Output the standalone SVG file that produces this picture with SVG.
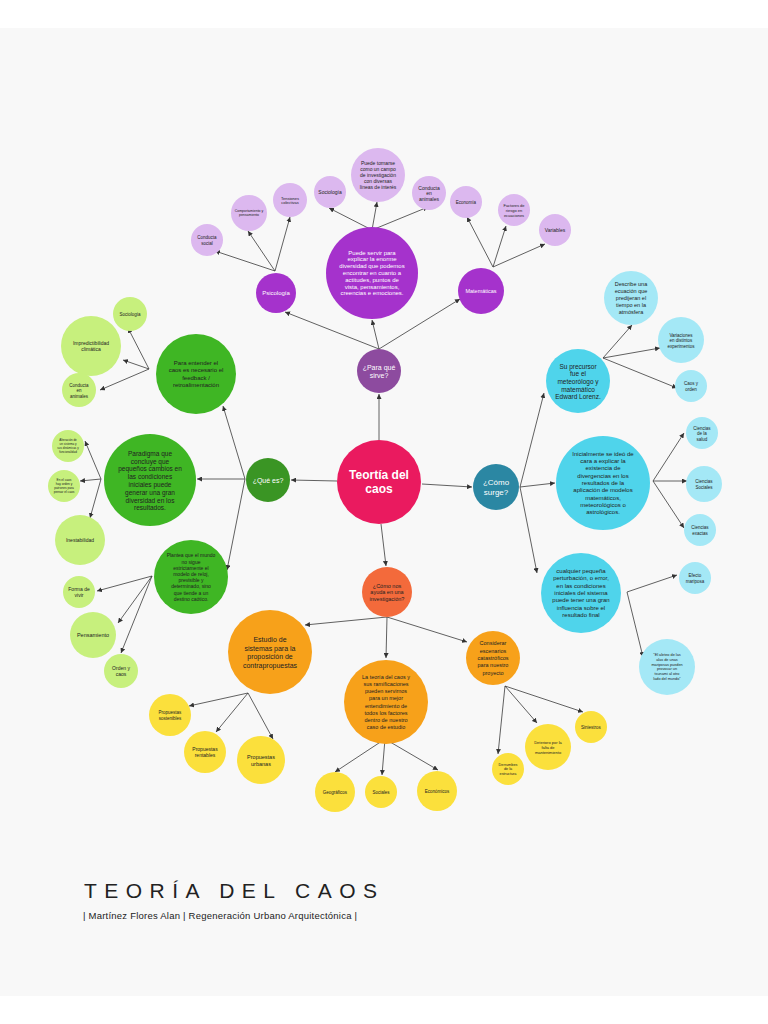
<svg xmlns="http://www.w3.org/2000/svg" width="768" height="1024" viewBox="0 0 768 1024">
<defs>
<marker id="ar" markerWidth="5" markerHeight="5" refX="5" refY="2.5" orient="auto" markerUnits="userSpaceOnUse"><path d="M0,0 L5,2.5 L0,5 z" fill="#333"/></marker>
<style>
.c line{stroke:#3a3a3a;stroke-width:0.8;marker-end:url(#ar)}
text{font-family:"Liberation Sans",Arial,sans-serif;text-anchor:middle;dominant-baseline:central;fill:#222}
.w{fill:#fff}
.pk{fill:#ea1a5f}.pq{fill:#8d4b9f}.pu{fill:#a532cc}.lp{fill:#dcb8ef}
.qe{fill:#3a9524}.gr{fill:#3fb624}.lg{fill:#c7f07d}
.cs{fill:#2b87a3}.bl{fill:#4fd4eb}.lb{fill:#a4e8f6}
.cn{fill:#f36a3b}.or{fill:#f7a11a}.ye{fill:#fbe03c}
</style>
</defs>
<rect x="0" y="0" width="768" height="1024" fill="#ffffff"/>
<rect x="0" y="28" width="768" height="968" fill="#f8f8f8"/>

<g class="c" id="connectors">
<line x1="379" y1="440" x2="379" y2="394"/>
<line x1="337" y1="481" x2="291" y2="480"/>
<line x1="422" y1="484" x2="472" y2="487"/>
<line x1="381" y1="524" x2="386" y2="566"/>
<line x1="379" y1="349" x2="285" y2="312"/>
<line x1="379" y1="349" x2="372" y2="320"/>
<line x1="379" y1="349" x2="460" y2="299"/>
<line x1="275" y1="271" x2="215" y2="251"/>
<line x1="275" y1="271" x2="248" y2="231"/>
<line x1="275" y1="271" x2="290" y2="217"/>
<line x1="372" y1="230" x2="329" y2="208"/>
<line x1="372" y1="230" x2="377" y2="202"/>
<line x1="372" y1="230" x2="428" y2="207"/>
<line x1="493" y1="267" x2="467" y2="217"/>
<line x1="493" y1="267" x2="506" y2="226"/>
<line x1="493" y1="267" x2="545" y2="244"/>
<line x1="245" y1="479" x2="223" y2="406"/>
<line x1="245" y1="479" x2="197" y2="479"/>
<line x1="245" y1="479" x2="227" y2="570"/>
<line x1="149" y1="369" x2="128" y2="328"/>
<line x1="149" y1="369" x2="123" y2="360"/>
<line x1="149" y1="369" x2="100" y2="390"/>
<line x1="101" y1="479" x2="85" y2="441"/>
<line x1="101" y1="479" x2="80" y2="481"/>
<line x1="101" y1="479" x2="90" y2="518"/>
<line x1="152" y1="576" x2="97" y2="591"/>
<line x1="152" y1="576" x2="118" y2="623"/>
<line x1="152" y1="576" x2="121" y2="653"/>
<line x1="520" y1="487" x2="544" y2="393"/>
<line x1="520" y1="487" x2="555" y2="483"/>
<line x1="520" y1="487" x2="537" y2="573"/>
<line x1="603" y1="358" x2="632" y2="325"/>
<line x1="603" y1="358" x2="660" y2="348"/>
<line x1="603" y1="358" x2="677" y2="388"/>
<line x1="653" y1="481" x2="684" y2="433"/>
<line x1="653" y1="481" x2="687" y2="481"/>
<line x1="653" y1="481" x2="684" y2="528"/>
<line x1="627" y1="592" x2="677" y2="575"/>
<line x1="627" y1="592" x2="643" y2="657"/>
<line x1="387" y1="617" x2="305" y2="625"/>
<line x1="387" y1="617" x2="386" y2="658"/>
<line x1="387" y1="617" x2="467" y2="642"/>
<line x1="248" y1="693" x2="189" y2="706"/>
<line x1="248" y1="693" x2="216" y2="732"/>
<line x1="248" y1="693" x2="273" y2="739"/>
<line x1="385" y1="739" x2="335" y2="772"/>
<line x1="385" y1="739" x2="382" y2="775"/>
<line x1="385" y1="739" x2="438" y2="770"/>
<line x1="505" y1="686" x2="498" y2="754"/>
<line x1="505" y1="686" x2="537" y2="723"/>
<line x1="505" y1="686" x2="583" y2="712"/>
</g>

<!-- center -->
<g id="n-centro"><circle class="pk" cx="379" cy="482" r="42"/>
<text class="w" font-size="12" font-weight="bold"><tspan x="379" y="475">Teortía del</tspan><tspan x="379" dy="14">caos</tspan></text></g>

<!-- purple -->
<g id="n-para"><circle class="pq" cx="379" cy="371" r="22"/>
<text class="w" font-size="7"><tspan x="379" y="366.75">¿Para qué</tspan><tspan x="379" dy="8.5">sirve?</tspan></text></g>
<g id="n-psico"><circle class="pu" cx="276" cy="293" r="20"/>
<text class="w" font-size="6"><tspan x="276" y="293">Psicología</tspan></text></g>
<g id="n-puede"><circle class="pu" cx="372" cy="273" r="46"/>
<text class="w" font-size="6"><tspan x="372" y="252.6">Puede servir para</tspan><tspan x="372" dy="6.8">explicar la enorme</tspan><tspan x="372" dy="6.8">diversidad que podemos</tspan><tspan x="372" dy="6.8">encontrar en cuanto a</tspan><tspan x="372" dy="6.8">actitudes, puntos de</tspan><tspan x="372" dy="6.8">vista, pensamientos,</tspan><tspan x="372" dy="6.8">creencias e emociones.</tspan></text></g>
<g id="n-mate"><circle class="pu" cx="481" cy="291" r="23"/>
<text class="w" font-size="5.5"><tspan x="481" y="291">Matemáticas</tspan></text></g>
<g id="n-conducta-social"><circle class="lp" cx="207" cy="240" r="16"/>
<text font-size="4.5"><tspan x="207" y="237.25">Conducta</tspan><tspan x="207" dy="5.5">social</tspan></text></g>
<g id="n-comport"><circle class="lp" cx="249" cy="213" r="18"/>
<text font-size="3.5"><tspan x="249" y="210.9">Comportamiento y</tspan><tspan x="249" dy="4.2">pensamiento</tspan></text></g>
<g id="n-tensiones"><circle class="lp" cx="290" cy="200" r="17"/>
<text font-size="4"><tspan x="290" y="197.6">Tensiones</tspan><tspan x="290" dy="4.8">colectivas</tspan></text></g>
<g id="n-sociologia1"><circle class="lp" cx="330" cy="192" r="16"/>
<text font-size="5"><tspan x="330" y="192">Sociología</tspan></text></g>
<g id="n-tornarse"><circle class="lp" cx="378" cy="175" r="27"/>
<text font-size="5"><tspan x="378" y="163.4">Puede tornarse</tspan><tspan x="378" dy="5.8">como un campo</tspan><tspan x="378" dy="5.8">de investigación</tspan><tspan x="378" dy="5.8">con diversas</tspan><tspan x="378" dy="5.8">líneas de interés</tspan></text></g>
<g id="n-conducta-animales1"><circle class="lp" cx="429" cy="193" r="17"/>
<text font-size="5"><tspan x="429" y="187.5">Conducta</tspan><tspan x="429" dy="5.5">en</tspan><tspan x="429" dy="5.5">animales</tspan></text></g>
<g id="n-economia"><circle class="lp" cx="466" cy="202" r="16"/>
<text font-size="4.5"><tspan x="466" y="202">Economía</tspan></text></g>
<g id="n-factores"><circle class="lp" cx="514" cy="210" r="16"/>
<text font-size="4"><tspan x="514" y="205.2">Factores de</tspan><tspan x="514" dy="4.8">riesgo en</tspan><tspan x="514" dy="4.8">ecuaciones</tspan></text></g>
<g id="n-variables"><circle class="lp" cx="555" cy="230" r="16"/>
<text font-size="5"><tspan x="555" y="230">Variables</tspan></text></g>

<!-- green -->
<g id="n-que"><circle class="qe" cx="268" cy="480" r="22"/>
<text class="w" font-size="7"><tspan x="268" y="480">¿Qué es?</tspan></text></g>
<g id="n-entender"><circle class="gr" cx="196" cy="374" r="40"/>
<text font-size="6"><tspan x="196" y="363.05">Para entender el</tspan><tspan x="196" dy="7.3">caos es necesario el</tspan><tspan x="196" dy="7.3">feedback /</tspan><tspan x="196" dy="7.3">retroalimentación</tspan></text></g>
<g id="n-paradigma"><circle class="gr" cx="150" cy="480" r="46"/>
<text font-size="6.5"><tspan x="150" y="452.7">Paradigma que</tspan><tspan x="150" dy="7.8">concluye que</tspan><tspan x="150" dy="7.8">pequeños cambios en</tspan><tspan x="150" dy="7.8">las condiciones</tspan><tspan x="150" dy="7.8">iniciales puede</tspan><tspan x="150" dy="7.8">generar una gran</tspan><tspan x="150" dy="7.8">diversidad en los</tspan><tspan x="150" dy="7.8">resultados.</tspan></text></g>
<g id="n-plantea"><circle class="gr" cx="191" cy="577" r="37"/>
<text font-size="5"><tspan x="191" y="555.3">Plantea que el mundo</tspan><tspan x="191" dy="6.2">no sigue</tspan><tspan x="191" dy="6.2">estrictamente el</tspan><tspan x="191" dy="6.2">modelo de reloj,</tspan><tspan x="191" dy="6.2">previsible y</tspan><tspan x="191" dy="6.2">determinado, sino</tspan><tspan x="191" dy="6.2">que tiende a un</tspan><tspan x="191" dy="6.2">destino caótico.</tspan></text></g>
<g id="n-sociologia2"><circle class="lg" cx="130" cy="314" r="17"/>
<text font-size="4.5"><tspan x="130" y="314">Sociología</tspan></text></g>
<g id="n-impred"><circle class="lg" cx="91" cy="346" r="30"/>
<text font-size="5"><tspan x="91" y="343">Impredictibilidad</tspan><tspan x="91" dy="6">climática</tspan></text></g>
<g id="n-conducta-animales2"><circle class="lg" cx="79" cy="390" r="17"/>
<text font-size="4.5"><tspan x="79" y="384.5">Conducta</tspan><tspan x="79" dy="5.5">en</tspan><tspan x="79" dy="5.5">animales</tspan></text></g>
<g id="n-alteracion"><circle class="lg" cx="68" cy="446" r="16"/>
<text font-size="3"><tspan x="68" y="440.3">Alteración de</tspan><tspan x="68" dy="3.8">un sistema y</tspan><tspan x="68" dy="3.8">sus dinámicas y</tspan><tspan x="68" dy="3.8">funcionalidad</tspan></text></g>
<g id="n-enelcaos"><circle class="lg" cx="64" cy="486" r="16"/>
<text font-size="3.2"><tspan x="64" y="480">En el caos</tspan><tspan x="64" dy="4">hay orden y</tspan><tspan x="64" dy="4">patrones para</tspan><tspan x="64" dy="4">pensar el caos</tspan></text></g>
<g id="n-inestabilidad"><circle class="lg" cx="80" cy="540" r="25"/>
<text font-size="5"><tspan x="80" y="540">Inestabilidad</tspan></text></g>
<g id="n-forma"><circle class="lg" cx="79" cy="592" r="16"/>
<text font-size="5"><tspan x="79" y="589">Forma de</tspan><tspan x="79" dy="6">vivir</tspan></text></g>
<g id="n-pensamiento"><circle class="lg" cx="93" cy="635" r="23"/>
<text font-size="5.5"><tspan x="93" y="635">Pensamiento</tspan></text></g>
<g id="n-orden"><circle class="lg" cx="121" cy="671" r="17"/>
<text font-size="5"><tspan x="121" y="668">Orden y</tspan><tspan x="121" dy="6">caos</tspan></text></g>

<!-- blue -->
<g id="n-como-surge"><circle class="cs" cx="496" cy="487" r="23"/>
<text class="w" font-size="8"><tspan x="496" y="482.25">¿Cómo</tspan><tspan x="496" dy="9.5">surge?</tspan></text></g>
<g id="n-precursor"><circle class="bl" cx="578" cy="381" r="32"/>
<text font-size="6.5"><tspan x="578" y="365.6">Su precursor</tspan><tspan x="578" dy="7.7">fue el</tspan><tspan x="578" dy="7.7">meteorólogo y</tspan><tspan x="578" dy="7.7">matemático</tspan><tspan x="578" dy="7.7">Edward Lorenz.</tspan></text></g>
<g id="n-inicialmente"><circle class="bl" cx="603" cy="483" r="47"/>
<text font-size="6"><tspan x="603" y="453.8">Inicialmente se ideó de</tspan><tspan x="603" dy="7.3">cara a explicar la</tspan><tspan x="603" dy="7.3">existencia de</tspan><tspan x="603" dy="7.3">divergencias en los</tspan><tspan x="603" dy="7.3">resultados de la</tspan><tspan x="603" dy="7.3">aplicación de modelos</tspan><tspan x="603" dy="7.3">matemáticos,</tspan><tspan x="603" dy="7.3">meteorológicos o</tspan><tspan x="603" dy="7.3">astrológicos.</tspan></text></g>
<g id="n-cualquier"><circle class="bl" cx="581" cy="593" r="40"/>
<text font-size="6"><tspan x="581" y="570.8">cualquier pequeña</tspan><tspan x="581" dy="7.4">perturbación, o error,</tspan><tspan x="581" dy="7.4">en las condiciones</tspan><tspan x="581" dy="7.4">iniciales del sistema</tspan><tspan x="581" dy="7.4">puede tener una gran</tspan><tspan x="581" dy="7.4">influencia sobre el</tspan><tspan x="581" dy="7.4">resultado final</tspan></text></g>
<g id="n-describe"><circle class="lb" cx="631" cy="298" r="27"/>
<text font-size="5.5"><tspan x="631" y="283.6">Describe una</tspan><tspan x="631" dy="7.2">ecuación que</tspan><tspan x="631" dy="7.2">predijeran el</tspan><tspan x="631" dy="7.2">tiempo en la</tspan><tspan x="631" dy="7.2">atmósfera</tspan></text></g>
<g id="n-variaciones"><circle class="lb" cx="681" cy="340" r="23"/>
<text font-size="4.5"><tspan x="681" y="334.5">Variaciones</tspan><tspan x="681" dy="5.5">en distintos</tspan><tspan x="681" dy="5.5">experimentos</tspan></text></g>
<g id="n-caos-orden"><circle class="lb" cx="691" cy="386" r="16"/>
<text font-size="4.5"><tspan x="691" y="383.25">Caos y</tspan><tspan x="691" dy="5.5">orden</tspan></text></g>
<g id="n-salud"><circle class="lb" cx="702" cy="433" r="16"/>
<text font-size="4.5"><tspan x="702" y="427.5">Ciencias</tspan><tspan x="702" dy="5.5">de la</tspan><tspan x="702" dy="5.5">salud</tspan></text></g>
<g id="n-sociales-c"><circle class="lb" cx="704" cy="484" r="18"/>
<text font-size="4.5"><tspan x="704" y="481">Ciencias</tspan><tspan x="704" dy="6">Sociales</tspan></text></g>
<g id="n-exactas"><circle class="lb" cx="700" cy="530" r="16"/>
<text font-size="4.5"><tspan x="700" y="527">Ciencias</tspan><tspan x="700" dy="6">exactas</tspan></text></g>
<g id="n-efecto"><circle class="lb" cx="695" cy="578" r="16"/>
<text font-size="4.5"><tspan x="695" y="575.25">Efecto</tspan><tspan x="695" dy="5.5">mariposa</tspan></text></g>
<g id="n-aleteo"><circle class="lb" cx="667" cy="667" r="28"/>
<text font-size="3.8"><tspan x="667" y="655">"El aleteo de las</tspan><tspan x="667" dy="4.8">alas de unas</tspan><tspan x="667" dy="4.8">mariposas pueden</tspan><tspan x="667" dy="4.8">provocar un</tspan><tspan x="667" dy="4.8">tsunami al otro</tspan><tspan x="667" dy="4.8">lado del mundo"</tspan></text></g>

<!-- orange / yellow -->
<g id="n-ayuda"><circle class="cn" cx="387" cy="592" r="25"/>
<text font-size="5.5"><tspan x="387" y="585.5">¿Cómo nos</tspan><tspan x="387" dy="6.5">ayuda en una</tspan><tspan x="387" dy="6.5">investigación?</tspan></text></g>
<g id="n-estudio"><circle class="or" cx="270" cy="652" r="42"/>
<text font-size="7"><tspan x="270" y="638.95">Estudio de</tspan><tspan x="270" dy="8.7">sistemas para la</tspan><tspan x="270" dy="8.7">proposición de</tspan><tspan x="270" dy="8.7">contrapropuestas</tspan></text></g>
<g id="n-teoria"><circle class="or" cx="386" cy="702" r="42"/>
<text font-size="5.5"><tspan x="386" y="677.15">La teoría del caos y</tspan><tspan x="386" dy="7.1">sus ramificaciones</tspan><tspan x="386" dy="7.1">pueden servirnos</tspan><tspan x="386" dy="7.1">para un mejor</tspan><tspan x="386" dy="7.1">entendimiento de</tspan><tspan x="386" dy="7.1">todos los factores</tspan><tspan x="386" dy="7.1">dentro de nuestro</tspan><tspan x="386" dy="7.1">caso de estudio</tspan></text></g>
<g id="n-considerar"><circle class="or" cx="493" cy="658" r="27"/>
<text font-size="5.5"><tspan x="493" y="643.2">Considerar</tspan><tspan x="493" dy="7.4">escenarios</tspan><tspan x="493" dy="7.4">catastróficos</tspan><tspan x="493" dy="7.4">para nuestro</tspan><tspan x="493" dy="7.4">proyecto</tspan></text></g>
<g id="n-sostenibles"><circle class="ye" cx="170" cy="715" r="21"/>
<text font-size="4.5"><tspan x="170" y="712.25">Propuestas</tspan><tspan x="170" dy="5.5">sostenibles</tspan></text></g>
<g id="n-rentables"><circle class="ye" cx="205" cy="752" r="21"/>
<text font-size="5"><tspan x="205" y="748.75">Propuestas</tspan><tspan x="205" dy="6.5">rentables</tspan></text></g>
<g id="n-urbanas"><circle class="ye" cx="261" cy="760" r="24"/>
<text font-size="5.5"><tspan x="261" y="756.5">Propuestas</tspan><tspan x="261" dy="7">urbanas</tspan></text></g>
<g id="n-geograficos"><circle class="ye" cx="335" cy="792" r="20"/>
<text font-size="4.5"><tspan x="335" y="792">Geográficos</tspan></text></g>
<g id="n-sociales"><circle class="ye" cx="381" cy="792" r="16"/>
<text font-size="4.5"><tspan x="381" y="792">Sociales</tspan></text></g>
<g id="n-economicos"><circle class="ye" cx="437" cy="791" r="20"/>
<text font-size="4.5"><tspan x="437" y="791">Económicos</tspan></text></g>
<g id="n-derrumbes"><circle class="ye" cx="508" cy="769" r="16"/>
<text font-size="3.8"><tspan x="508" y="764.5">Derrumbes</tspan><tspan x="508" dy="4.5">de la</tspan><tspan x="508" dy="4.5">estructura</tspan></text></g>
<g id="n-deterioro"><circle class="ye" cx="548" cy="747" r="23"/>
<text font-size="4"><tspan x="548" y="742">Deterioro por la</tspan><tspan x="548" dy="5">falta de</tspan><tspan x="548" dy="5">mantenimiento</tspan></text></g>
<g id="n-siniestros"><circle class="ye" cx="591" cy="727" r="16"/>
<text font-size="4.5"><tspan x="591" y="727">Siniestros</tspan></text></g>

<!-- title -->
<text x="84" y="898" font-family="Lato, 'Liberation Sans', sans-serif" font-size="21" font-weight="300" fill="#222" style="text-anchor:start;dominant-baseline:alphabetic" textLength="293" lengthAdjust="spacing">TEORÍA DEL CAOS</text>
<text x="83" y="919" font-size="9.5" fill="#333" style="text-anchor:start;dominant-baseline:alphabetic" textLength="274" lengthAdjust="spacing">| Martínez Flores Alan | Regeneración Urbano Arquitectónica |</text>
</svg>
